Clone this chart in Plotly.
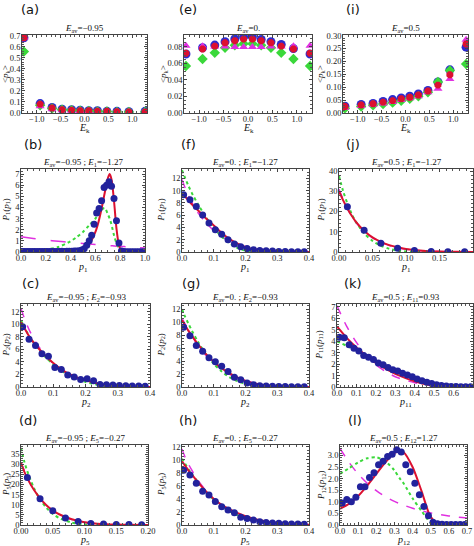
import plotly.graph_objects as go

W, H = 474, 546

# ---- data ----
E_K = [-1.27, -0.93, -0.68, -0.47, -0.27, -0.09, 0.09, 0.27, 0.47, 0.68, 0.93, 1.27]

A_BLUE = [0.68, 0.085, 0.05, 0.035, 0.03, 0.025, 0.02, 0.02, 0.015, 0.015, 0.012, 0.015]
A_RED = [0.68, 0.08, 0.045, 0.03, 0.025, 0.02, 0.02, 0.015, 0.015, 0.012, 0.01, 0.01]
A_MAGENTA = [0.68, 0.06, 0.035, 0.025, 0.02, 0.018, 0.015, 0.013, 0.01, 0.01, 0.008, 0.008]
A_GREEN = [0.555, 0.07, 0.04, 0.03, 0.025, 0.02, 0.018, 0.015, 0.013, 0.01, 0.01, 0.01]

E_BLUE = [0.0715, 0.079, 0.0823, 0.0864, 0.0897, 0.0922, 0.0922, 0.089, 0.0864, 0.083, 0.078, 0.0715]
E_RED = [0.0725, 0.0775, 0.081, 0.085, 0.0875, 0.0895, 0.0895, 0.0875, 0.085, 0.081, 0.0775, 0.0725]
E_MAGENTA = [0.0815, 0.081, 0.0805, 0.0805, 0.08, 0.08, 0.08, 0.08, 0.0805, 0.0805, 0.081, 0.0815]
E_GREEN = [0.057, 0.0655, 0.073, 0.079, 0.082, 0.084, 0.084, 0.082, 0.079, 0.073, 0.0655, 0.057]

I_BLUE = [0.026, 0.033, 0.037, 0.045, 0.052, 0.058, 0.065, 0.074, 0.087, 0.12, 0.167, 0.255]
I_RED = [0.025, 0.031, 0.036, 0.042, 0.048, 0.055, 0.061, 0.07, 0.085, 0.108, 0.148, 0.267]
I_MAGENTA = [0.02, 0.027, 0.032, 0.037, 0.043, 0.05, 0.057, 0.065, 0.08, 0.094, 0.132, 0.284]
I_GREEN = [0.018, 0.025, 0.03, 0.035, 0.04, 0.047, 0.055, 0.065, 0.08, 0.12, 0.165, 0.19]

# histogram bin centres
BINS_B = [0.01, 0.03, 0.05, 0.07, 0.09, 0.11, 0.13, 0.15, 0.17, 0.19, 0.21, 0.23, 0.25,
          0.27, 0.29, 0.31, 0.33, 0.35, 0.37, 0.39, 0.41, 0.43, 0.45, 0.47, 0.49, 0.51,
          0.53, 0.55, 0.57, 0.59, 0.61, 0.63, 0.65, 0.67, 0.69, 0.71, 0.73, 0.75, 0.77,
          0.79, 0.81, 0.83, 0.85, 0.87, 0.89, 0.91, 0.93, 0.95, 0.97, 0.99]
BINS_04 = [0.005, 0.025, 0.045, 0.065, 0.085, 0.105, 0.125, 0.145, 0.165, 0.185,
           0.205, 0.225, 0.245, 0.265, 0.285, 0.305, 0.325, 0.345, 0.365, 0.385]
BINS_J = [0.0125, 0.0375, 0.0625, 0.0875, 0.1125, 0.1375, 0.1625, 0.1875]
BINS_D = [0.01, 0.03, 0.05, 0.07, 0.09, 0.11, 0.13, 0.15, 0.17, 0.19]
BINS_07 = [0.0125, 0.0375, 0.0625, 0.0875, 0.1125, 0.1375, 0.1625, 0.1875, 0.2125, 0.2375,
           0.2625, 0.2875, 0.3125, 0.3375, 0.3625, 0.3875, 0.4125, 0.4375, 0.4625, 0.4875,
           0.5125, 0.5375, 0.5625, 0.5875, 0.6125, 0.6375, 0.6625, 0.6875]

# (b)
B_DOTS = [0.05, 0.05, 0.04, 0.05, 0.05, 0.04, 0.05, 0.05, 0.05, 0.04, 0.05, 0.05, 0.05,
          0.05, 0.05, 0.05, 0.06, 0.05, 0.06, 0.06, 0.07, 0.08, 0.1, 0.12, 0.18, 0.3,
          0.6, 1.0, 1.5, 2.5, 3.5, 3.9, 4.6, 5.8, 6.0, 6.3, 5.9, 4.8, 2.8, 0.8, 0.1,
          0.04, 0.03, 0.03, 0.03, 0.03, 0.03, 0.03, 0.03, 0.03]
B_CX = [0, 0.1, 0.2, 0.3, 0.4, 0.45, 0.5, 0.55, 0.6, 0.625, 0.65, 0.675, 0.7, 0.715, 0.73,
        0.75, 0.77, 0.79, 0.81, 0.85, 0.9, 1.0]
B_RED = [0, 0, 0, 0, 0.02, 0.08, 0.25, 0.7, 1.8, 2.7, 3.9, 5.3, 6.6, 7.0, 6.5, 4.6, 2.1,
         0.6, 0.08, 0, 0, 0]
B_GREEN = [0, 0.03, 0.2, 0.45, 0.97, 1.35, 1.8, 2.4, 3.0, 3.45, 3.8, 3.95, 3.4, 3.0, 2.45,
           1.5, 0.8, 0.3, 0.08, 0, 0, 0]
B_MAGENTA = [1.36, 1.22, 1.08, 0.96, 0.86, 0.81, 0.76, 0.71, 0.67, 0.65, 0.63, 0.6, 0.58,
             0.57, 0.56, 0.54, 0.52, 0.51, 0.5, 0.47, 0.43, 0.36]

# (f)
F_DOTS = [9.3, 8.5, 7.4, 6.0, 4.7, 3.6, 2.9, 2.0, 1.3, 0.85, 0.55, 0.35, 0.25, 0.2, 0.15,
          0.1, 0.08, 0.06, 0.05, 0.04]
F_CX = [0, 0.01, 0.02, 0.03, 0.05, 0.075, 0.1, 0.125, 0.15, 0.175, 0.2, 0.225, 0.25, 0.3, 0.35, 0.4]
F_RED = [9.5, 9.0, 8.4, 7.8, 6.8, 5.5, 4.3, 3.1, 2.1, 1.35, 0.8, 0.45, 0.25, 0.07, 0.02, 0]
F_GREEN = [13.3, 12.0, 10.8, 9.7, 7.8, 5.7, 3.9, 2.5, 1.4, 0.65, 0.2, 0.02, 0, 0, 0, 0]
F_MAGENTA = [11.8, 10.4, 9.2, 8.2, 6.4, 4.8, 3.5, 2.5, 1.75, 1.2, 0.85, 0.6, 0.45, 0.22, 0.1, 0.04]

# (j)
J_DOTS = [22.3, 10.8, 4.3, 1.8, 0.7, 0.3, 0.15, 0.1]
J_CX = [0, 0.00625, 0.0125, 0.01875, 0.025, 0.0375, 0.05, 0.0625, 0.075, 0.0875, 0.1, 0.125,
        0.15, 0.175, 0.2]
J_RED = [30, 25.5, 21.5, 18, 15, 10.5, 7.2, 5.0, 3.4, 2.3, 1.5, 0.6, 0.22, 0.07, 0.02]
J_GREEN = [37.5, 30, 24, 19, 15, 9.2, 5.5, 3.1, 1.6, 0.7, 0.25, 0, 0, 0, 0]
J_MAGENTA = [31, 26, 21.5, 17.8, 14.7, 10.2, 7.0, 4.8, 3.2, 2.1, 1.4, 0.55, 0.2, 0.06, 0.02]

# (c)
C_DOTS = [9.6, 7.6, 6.6, 5.3, 4.9, 3.1, 2.8, 1.9, 1.6, 1.2, 1.3, 1.0, 0.4, 0.35, 0.3, 0.25,
          0.2, 0.15, 0.15, 0.1]
C_CX = [0, 0.01, 0.02, 0.03, 0.05, 0.075, 0.1, 0.125, 0.15, 0.2, 0.25, 0.3, 0.35, 0.4]
C_RED = [10.3, 9.4, 8.5, 7.7, 6.4, 5.0, 3.8, 2.8, 2.05, 1.05, 0.45, 0.15, 0.04, 0]
C_GREEN = [10.6, 9.6, 8.6, 7.8, 6.3, 4.8, 3.6, 2.6, 1.8, 0.8, 0.25, 0.03, 0, 0]
C_MAGENTA = [12.5, 11.0, 9.7, 8.6, 6.8, 5.1, 3.7, 2.7, 1.95, 0.95, 0.45, 0.2, 0.08, 0.03]

# (g)
G_DOTS = [9.2, 7.9, 6.4, 5.5, 4.5, 3.9, 3.2, 2.4, 1.5, 1.1, 0.6, 0.35, 0.2, 0.15, 0.1, 0.08,
          0.06, 0.05, 0.05, 0.05]
G_CX = [0, 0.01, 0.02, 0.03, 0.05, 0.075, 0.1, 0.125, 0.15, 0.2, 0.25, 0.3, 0.35, 0.4]
G_RED = [10.3, 9.5, 8.7, 8.0, 6.6, 5.1, 3.9, 2.9, 2.1, 0.95, 0.35, 0.08, 0.01, 0]
G_GREEN = [12.0, 10.8, 9.8, 8.8, 7.0, 5.1, 3.6, 2.4, 1.5, 0.45, 0.05, 0, 0, 0]
G_MAGENTA = [10.6, 9.7, 8.8, 8.0, 6.4, 4.9, 3.7, 2.7, 1.95, 0.95, 0.4, 0.15, 0.05, 0.02]

# (k)
K_DOTS = [4.35, 4.3, 3.7, 3.4, 3.15, 2.75, 2.6, 2.4, 2.1, 1.95, 1.7, 1.5, 1.4, 1.2, 1.05,
          0.9, 0.7, 0.55, 0.42, 0.3, 0.2, 0.13, 0.08, 0.05, 0.04, 0.03, 0.02, 0.02]
K_CX = [0, 0.05, 0.1, 0.15, 0.2, 0.25, 0.3, 0.35, 0.4, 0.45, 0.5, 0.55, 0.6, 0.65, 0.7]
K_RED = [5.3, 4.3, 3.45, 2.75, 2.1, 1.6, 1.15, 0.8, 0.5, 0.27, 0.11, 0.03, 0.005, 0, 0]
K_GREEN = [4.0, 3.6, 3.2, 2.75, 2.3, 1.9, 1.45, 1.05, 0.7, 0.4, 0.16, 0.03, 0, 0, 0]
K_MAGENTA = [7.1, 5.3, 3.9, 2.8, 1.95, 1.35, 0.9, 0.6, 0.38, 0.23, 0.13, 0.07, 0.04, 0.02, 0.01]

# (d)
D_DOTS = [23.5, 13.0, 7.0, 3.4, 1.7, 0.8, 0.5, 0.3, 0.25, 0.15]
D_CX = [0, 0.005, 0.01, 0.02, 0.03, 0.04, 0.05, 0.06, 0.08, 0.1, 0.12, 0.15, 0.2]
D_RED = [30.5, 26.5, 23, 17.5, 13.2, 9.8, 7.2, 5.3, 2.8, 1.4, 0.65, 0.2, 0.02]
D_GREEN = [38, 31.5, 26.5, 18.5, 12.6, 8.5, 5.5, 3.5, 1.2, 0.25, 0, 0, 0]
D_MAGENTA = [31, 27, 23.2, 17.5, 13.1, 9.7, 7.1, 5.2, 2.7, 1.35, 0.6, 0.18, 0.02]

# (h)
H_DOTS = [8.4, 7.7, 6.4, 5.2, 4.6, 3.6, 2.8, 2.3, 1.9, 1.2, 1.0, 0.75, 0.5, 0.4, 0.3, 0.25,
          0.2, 0.15, 0.15, 0.12]
H_CX = [0, 0.01, 0.02, 0.03, 0.05, 0.075, 0.1, 0.125, 0.15, 0.2, 0.25, 0.3, 0.35, 0.4]
H_RED = [9.8, 9.1, 8.4, 7.8, 6.6, 5.2, 4.0, 3.1, 2.4, 1.35, 0.7, 0.3, 0.1, 0.02]
H_GREEN = [10.2, 9.4, 8.6, 7.9, 6.6, 5.1, 3.9, 2.9, 2.1, 1.0, 0.35, 0.05, 0, 0]
H_MAGENTA = [11.7, 10.4, 9.4, 8.5, 6.9, 5.3, 4.0, 3.0, 2.3, 1.2, 0.6, 0.25, 0.1, 0.04]

# (l)
L_DOTS = [0.95, 1.1, 1.0, 1.2, 1.65, 1.65, 2.05, 2.25, 2.6, 2.75, 2.95, 3.05, 3.25, 3.15,
          2.6, 2.3, 1.8, 1.3, 0.8, 0.4, 0.12, 0.05, 0.03, 0.02, 0.02, 0.02, 0.02, 0.02]
L_CX = [0, 0.05, 0.1, 0.15, 0.2, 0.25, 0.3, 0.33, 0.35, 0.4, 0.45, 0.5, 0.55, 0.6, 0.65, 0.7]
L_RED = [0.7, 0.92, 1.25, 1.7, 2.2, 2.7, 3.1, 3.2, 3.15, 2.5, 1.45, 0.35, 0.02, 0, 0, 0]
L_GREEN = [2.2, 2.45, 2.7, 2.88, 2.92, 2.75, 2.35, 2.0, 1.8, 1.15, 0.6, 0.1, 0, 0, 0, 0]
L_MAGENTA = [3.3, 2.7, 2.2, 1.8, 1.48, 1.22, 1.02, 0.92, 0.86, 0.72, 0.61, 0.52, 0.45, 0.39, 0.34, 0.3]

# ---- styling / layout ----
BLUE1 = "#2b2bd0"
BLUE = "#22229c"
RED = "#dc1030"
MAGENTA = "#e030e0"
GREEN = "#3ad83a"
SERIF = "Liberation Serif"

# panel boxes in pixels: left, right, top, bottom
BOXES = {
    "a": (22, 147, 35, 113), "e": (184, 312, 35, 113), "i": (343, 468, 35, 113),
    "b": (21, 145, 169, 252), "f": (182, 309, 169, 252), "j": (339, 473, 169, 252),
    "c": (21, 150, 304, 387), "g": (182, 309, 304, 387), "k": (337, 473, 304, 387),
    "d": (21, 148, 445, 525), "h": (182, 309, 445, 525), "l": (340, 467, 445, 525),
}
LABEL_POS = {
    "a": (30, 9), "e": (188, 9), "i": (353, 9),
    "b": (33, 145), "f": (188, 145), "j": (353, 145),
    "c": (30, 283), "g": (191, 283), "k": (353, 283),
    "d": (28, 420), "h": (188, 420), "l": (355, 420),
}
YTITLE_X = {"a": 6, "e": 164, "i": 321, "b": 6, "f": 161, "j": 321,
            "c": 6, "g": 161, "k": 319, "d": 6, "h": 161, "l": 321}


def sub(base, s):
    return f"<i>{base}</i><sub>{s}</sub>"


def eav(v):
    return sub("E", "av") + "=" + v


TOP_PANELS = [
    ("a", A_BLUE, A_GREEN, A_MAGENTA, A_RED, [0, 0.705], 0.1, ".1f", 0.02, eav("−0.95")),
    ("e", E_BLUE, E_GREEN, E_MAGENTA, E_RED, [0, 0.0945], 0.02, ".2f", 0.005, eav("0.")),
    ("i", I_BLUE, I_GREEN, I_MAGENTA, I_RED, [0, 0.302], 0.05, ".2f", 0.01, eav("0.5")),
]

DIST_PANELS = [
    ("b", BINS_B, B_DOTS, B_CX, B_RED, B_GREEN, B_MAGENTA, [0, 1], 0.2, ".1f", 0.05,
     [0, 7.45], 1, "d", 0.25, "1", "1", eav("−0.95") + " ; " + sub("E", "1") + "=−1.27"),
    ("f", BINS_04, F_DOTS, F_CX, F_RED, F_GREEN, F_MAGENTA, [0, 0.4], 0.1, ".1f", 0.02,
     [0, 13.5], 2, "d", 0.5, "1", "1", eav("0.") + " ; " + sub("E", "1") + "=−1.27"),
    ("j", BINS_J, J_DOTS, J_CX, J_RED, J_GREEN, J_MAGENTA, [0, 0.2], 0.05, ".2f", 0.01,
     [0, 41], 10, "d", 2, "1", "1", eav("0.5") + " ; " + sub("E", "1") + "=−1.27"),
    ("c", BINS_04, C_DOTS, C_CX, C_RED, C_GREEN, C_MAGENTA, [0, 0.4], 0.1, ".1f", 0.02,
     [0, 13.2], 2, "d", 0.5, "2", "2", eav("−0.95") + " ; " + sub("E", "2") + "=−0.93"),
    ("g", BINS_04, G_DOTS, G_CX, G_RED, G_GREEN, G_MAGENTA, [0, 0.4], 0.1, ".1f", 0.02,
     [0, 12.8], 2, "d", 0.5, "2", "2", eav("0.") + " ; " + sub("E", "2") + "=−0.93"),
    ("k", BINS_07, K_DOTS, K_CX, K_RED, K_GREEN, K_MAGENTA, [0, 0.7], 0.1, ".1f", 0.02,
     [0, 7.26], 1, "d", 0.25, "11", "11", eav("0.5") + " ; " + sub("E", "11") + "=0.93"),
    ("d", BINS_D, D_DOTS, D_CX, D_RED, D_GREEN, D_MAGENTA, [0, 0.2], 0.05, ".2f", 0.01,
     [0, 39.5], 5, "d", 1, "5", "5", eav("−0.95") + " ; " + sub("E", "5") + "=−0.27"),
    ("h", BINS_04, H_DOTS, H_CX, H_RED, H_GREEN, H_MAGENTA, [0, 0.4], 0.1, ".1f", 0.02,
     [0, 12.3], 2, "d", 0.5, "5", "5", eav("0.") + " ; " + sub("E", "5") + "=−0.27"),
    ("l", BINS_07, L_DOTS, L_CX, L_RED, L_GREEN, L_MAGENTA, [0, 0.7], 0.1, ".1f", 0.02,
     [0, 3.45], 0.5, ".1f", 0.1, "12", "12", eav("0.5") + " ; " + sub("E", "12") + "=1.27"),
]


def axis_style(domain, rng, dtick, fmt, minor_dtick, anchor, standoff):
    return dict(
        domain=domain, range=rng, dtick=dtick, tick0=0, tickformat=fmt, anchor=anchor,
        showline=True, linecolor="#444", linewidth=0.8, mirror="ticks",
        ticks="inside", ticklen=3.5, tickwidth=0.7, tickcolor="#444",
        minor=dict(ticks="inside", ticklen=1.8, dtick=minor_dtick, tickcolor="#555", tickwidth=0.6),
        showgrid=False, zeroline=False, automargin=False, fixedrange=True,
        ticklabelstandoff=standoff,
        tickfont=dict(family=SERIF, size=8.5, color="#222"),
    )


fig = go.Figure()
layout = {}
annotations = []


def add_axes(n, key, xr, xd, xf, xm, yr, yd, yf, ym):
    left, right, top, bottom = BOXES[key]
    xs = "" if n == 1 else str(n)
    layout["xaxis" + xs] = axis_style([left / W, right / W], xr, xd, xf, xm, "y" + xs, -2)
    layout["yaxis" + xs] = axis_style([1 - bottom / H, 1 - top / H], yr, yd, yf, ym, "x" + xs, -1)
    return "x" + xs, "y" + xs


def note(px, py, text, font, **kw):
    annotations.append(dict(x=px / W, y=1 - py / H, text=text, showarrow=False,
                            xref="paper", yref="paper", xanchor="center", yanchor="middle",
                            font=font, **kw))


def add_texts(key, title, xtitle, ytitle):
    left, right, top, bottom = BOXES[key]
    cx = (left + right) / 2
    note(cx, top - 6.5, title, dict(family=SERIF, size=9, color="#111"))
    note(cx, bottom + 15, xtitle, dict(family=SERIF, size=10, color="#111"))
    note(YTITLE_X[key], (top + bottom) / 2, ytitle, dict(family=SERIF, size=9, color="#111"),
         textangle=-90)
    lx, ly = LABEL_POS[key]
    note(lx, ly, f"({key})", dict(family="DejaVu Sans", size=13, color="#111"))


n = 0
for key, blue, green, magenta, red, yr, yd, yf, ym, title in TOP_PANELS:
    n += 1
    xa, ya = add_axes(n, key, [-1.31, 1.31], 0.5, ".1f", 0.1, yr, yd, yf, ym)
    for vals, color, symbol, size in [(blue, BLUE1, "circle", 9), (green, GREEN, "diamond", 8),
                                      (magenta, MAGENTA, "triangle-up", 8), (red, RED, "octagon", 7.5)]:
        fig.add_trace(go.Scatter(x=E_K, y=vals, mode="markers", xaxis=xa, yaxis=ya,
                                 marker=dict(color=color, symbol=symbol, size=size, line_width=0)))
    add_texts(key, title, sub("E", "k"), "&lt;" + sub("p", "k") + "&gt;")

for (key, bins, dots, cx, red, green, magenta, xr, xd, xf, xm, yr, yd, yf, ym,
     xs, ys, title) in DIST_PANELS:
    n += 1
    xa, ya = add_axes(n, key, xr, xd, xf, xm, yr, yd, yf, ym)
    dash = "longdash" if key == "b" else "dash"
    fig.add_trace(go.Scatter(x=cx, y=magenta, mode="lines", xaxis=xa, yaxis=ya,
                             line=dict(color=MAGENTA, width=1.5, dash=dash, shape="spline", smoothing=0.8)))
    fig.add_trace(go.Scatter(x=cx, y=green, mode="lines", xaxis=xa, yaxis=ya,
                             line=dict(color=GREEN, width=2, dash="dot", shape="spline", smoothing=0.8)))
    fig.add_trace(go.Scatter(x=cx, y=red, mode="lines", xaxis=xa, yaxis=ya,
                             line=dict(color=RED, width=2, shape="spline", smoothing=0.8)))
    fig.add_trace(go.Scatter(x=bins, y=dots, mode="markers", xaxis=xa, yaxis=ya,
                             marker=dict(color=BLUE, size=7, line_width=0)))
    add_texts(key, title, sub("p", xs), sub("P", ys) + "(" + sub("p", ys) + ")")

fig.update_layout(
    width=W, height=H, margin=dict(l=0, r=0, t=0, b=0),
    paper_bgcolor="white", plot_bgcolor="white", showlegend=False,
    annotations=annotations, **layout,
)
# the page's default body margin would shift the whole figure by 8px
fig.write_html("out.html", config={"displayModeBar": False},
               post_script="document.body.style.margin='0';")
